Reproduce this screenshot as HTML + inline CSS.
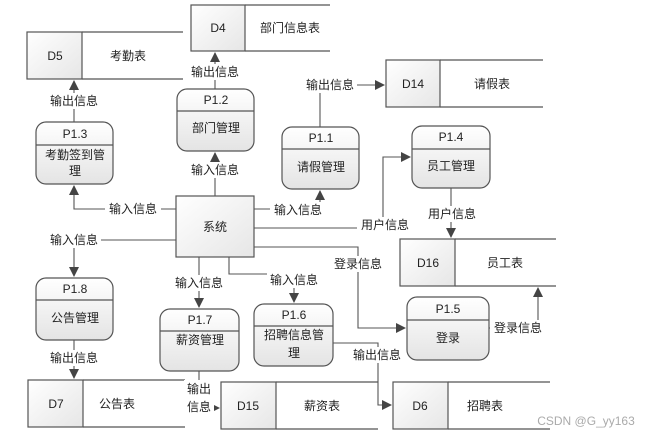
<!DOCTYPE html>
<html><head><meta charset="utf-8"><style>
html,body{margin:0;padding:0;background:#fff;}
svg{display:block;font-family:"Liberation Sans","Noto Sans CJK SC",sans-serif;}
</style></head><body>
<svg width="649" height="437" viewBox="0 0 649 437" xmlns="http://www.w3.org/2000/svg">
<defs>
<linearGradient id="g" x1="0" y1="0" x2="0" y2="1"><stop offset="0" stop-color="#ffffff"/><stop offset="1" stop-color="#e4e4e4"/></linearGradient>
<linearGradient id="gs" x1="0" y1="0" x2="1" y2="1"><stop offset="0" stop-color="#ffffff"/><stop offset="1" stop-color="#e6e6e6"/></linearGradient>
<marker id="a" markerWidth="10" markerHeight="10" refX="9" refY="5" orient="auto" markerUnits="userSpaceOnUse"><path d="M0,0 L10,5 L0,10 Z" fill="#444"/></marker>
</defs>
<g stroke="#555" stroke-width="1.2" fill="none">
<!-- stores -->
<rect x="191" y="5" width="54" height="46" fill="url(#gs)"/><path d="M245,5H330M245,51H330"/>
<rect x="27" y="32" width="55" height="47" fill="url(#gs)"/><path d="M82,32H183M82,79H183"/>
<rect x="386" y="60" width="54" height="47" fill="url(#gs)"/><path d="M440,60H543M440,107H543"/>
<rect x="400" y="239" width="55" height="47" fill="url(#gs)"/><path d="M455,239H556M455,286H556"/>
<rect x="28" y="380" width="55" height="47" fill="url(#gs)"/><path d="M83,380H185M83,427H185"/>
<rect x="221" y="382" width="55" height="47" fill="url(#gs)"/><path d="M276,382H378M276,429H378"/>
<rect x="393" y="382" width="55" height="47" fill="url(#gs)"/><path d="M448,382H550M448,429H550"/>
<!-- processes -->
<rect x="36" y="122" width="77" height="62" rx="10" fill="url(#g)"/><path d="M36,145H113"/>
<rect x="177" y="89" width="77" height="62" rx="10" fill="url(#g)"/><path d="M177,111H254"/>
<rect x="282" y="127" width="77" height="62" rx="10" fill="url(#g)"/><path d="M282,149H359"/>
<rect x="412" y="126" width="78" height="62" rx="10" fill="url(#g)"/><path d="M412,149H490"/>
<rect x="36" y="278" width="77" height="62" rx="10" fill="url(#g)"/><path d="M36,300H113"/>
<rect x="160" y="309" width="79" height="62" rx="10" fill="url(#g)"/><path d="M160,331H239"/>
<rect x="254" y="304" width="79" height="62" rx="10" fill="url(#g)"/><path d="M254,326H333"/>
<rect x="407" y="297" width="82" height="63" rx="10" fill="url(#g)"/><path d="M407,320H489"/>
<rect x="176" y="196" width="78" height="61" fill="url(#gs)"/>
</g>
<!-- connectors -->
<g stroke="#555" stroke-width="1.1" fill="none">
<path d="M74,122V81" marker-end="url(#a)"/>
<path d="M215,89V53" marker-end="url(#a)"/>
<path d="M215,196V153" marker-end="url(#a)"/>
<path d="M176,209H74V186" marker-end="url(#a)"/>
<path d="M254,209H320V191" marker-end="url(#a)"/>
<path d="M320,127V85H384" marker-end="url(#a)"/>
<path d="M254,228H383V157H410" marker-end="url(#a)"/>
<path d="M451,188V237" marker-end="url(#a)"/>
<path d="M176,240H74V276" marker-end="url(#a)"/>
<path d="M254,247H358V328H405" marker-end="url(#a)"/>
<path d="M199,257V307" marker-end="url(#a)"/>
<path d="M229,257V274H294V302" marker-end="url(#a)"/>
<path d="M489,328H538V288" marker-end="url(#a)"/>
<path d="M74,340V378" marker-end="url(#a)"/>
<path d="M199,371V408H219" marker-end="url(#a)"/>
<path d="M333,343H378V405H391" marker-end="url(#a)"/>
</g>
<!-- labels with white bg -->
<g fill="#fff">
<rect x="47" y="93" width="54" height="16"/><rect x="188" y="64" width="54" height="16"/>
<rect x="188" y="162" width="54" height="16"/><rect x="105" y="201" width="56" height="16"/>
<rect x="270" y="202" width="56" height="16"/><rect x="303" y="77" width="54" height="16"/>
<rect x="357" y="217" width="56" height="16"/><rect x="424" y="206" width="56" height="16"/>
<rect x="47" y="232" width="54" height="16"/><rect x="330" y="256" width="56" height="16"/>
<rect x="172" y="275" width="54" height="16"/><rect x="267" y="272" width="54" height="16"/>
<rect x="490" y="320" width="56" height="16"/><rect x="47" y="350" width="54" height="16"/>
<rect x="184" y="380" width="30" height="34"/><rect x="349" y="347" width="56" height="16"/>
</g>
<g font-size="12" fill="#222" text-anchor="middle">
<text x="74" y="105">输出信息</text><text x="215" y="76">输出信息</text>
<text x="215" y="174">输入信息</text><text x="133" y="213">输入信息</text>
<text x="298" y="214">输入信息</text><text x="330" y="89">输出信息</text>
<text x="385" y="229">用户信息</text><text x="452" y="218">用户信息</text>
<text x="74" y="244">输入信息</text><text x="358" y="268">登录信息</text>
<text x="199" y="287">输入信息</text><text x="294" y="284">输入信息</text>
<text x="518" y="332">登录信息</text><text x="74" y="362">输出信息</text>
<text x="199" y="393">输出</text><text x="199" y="411">信息</text>
<text x="377" y="359">输出信息</text>
<!-- node text -->
<text x="218" y="32">D4</text><text x="290" y="32">部门信息表</text>
<text x="55" y="60">D5</text><text x="128" y="60">考勤表</text>
<text x="413" y="88">D14</text><text x="492" y="88">请假表</text>
<text x="428" y="267">D16</text><text x="505" y="267">员工表</text>
<text x="56" y="408">D7</text><text x="117" y="408">公告表</text>
<text x="248" y="410">D15</text><text x="322" y="410">薪资表</text>
<text x="420" y="410">D6</text><text x="485" y="410">招聘表</text>
<text x="75" y="138">P1.3</text><text x="75" y="159">考勤签到管</text><text x="75" y="175">理</text>
<text x="216" y="104">P1.2</text><text x="216" y="132">部门管理</text>
<text x="321" y="142">P1.1</text><text x="321" y="171">请假管理</text>
<text x="451" y="141">P1.4</text><text x="451" y="170">员工管理</text>
<text x="75" y="293">P1.8</text><text x="75" y="322">公告管理</text>
<text x="200" y="324">P1.7</text><text x="200" y="344">薪资管理</text>
<text x="294" y="319">P1.6</text><text x="294" y="339">招聘信息管</text><text x="294" y="357">理</text>
<text x="448" y="313">P1.5</text><text x="448" y="342">登录</text>
<text x="215" y="231">系统</text>
</g>
<text x="586" y="425" font-size="12" fill="#aaa" text-anchor="middle">CSDN @G_yy163</text>
</svg>
</body></html>
